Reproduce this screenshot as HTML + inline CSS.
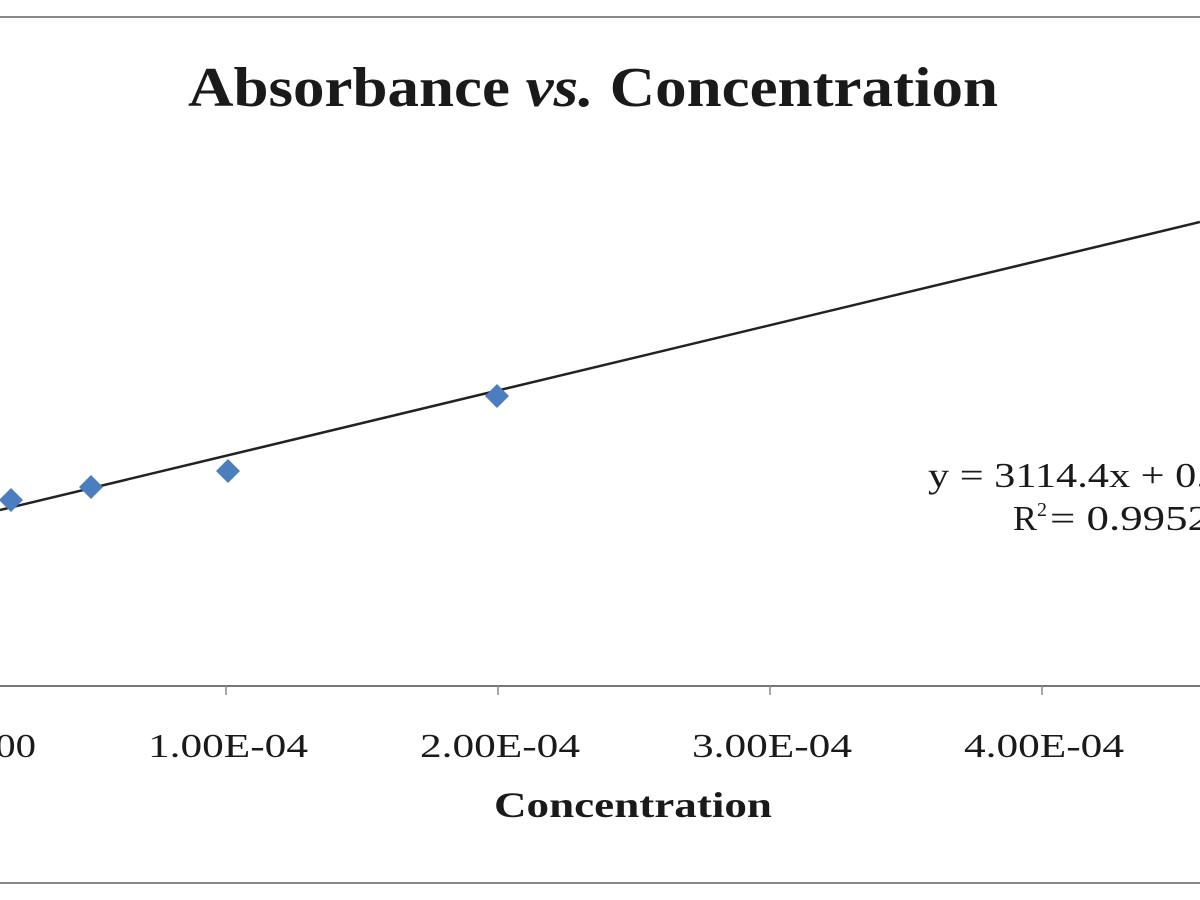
<!DOCTYPE html>
<html><head><meta charset="utf-8"><style>
body{margin:0;background:#fff;}
svg{display:block}
text{font-family:"Liberation Serif",serif;fill:#1a1a1a}
</style></head><body>
<svg width="1200" height="900" viewBox="0 0 1200 900">
<rect width="1200" height="900" fill="#fff"/>
<line x1="0" y1="17" x2="1200" y2="17" stroke="#888" stroke-width="2"/>
<line x1="0" y1="883" x2="1200" y2="883" stroke="#888" stroke-width="2"/>
<text x="188" y="106" font-size="56" font-weight="bold" textLength="810" lengthAdjust="spacingAndGlyphs">Absorbance <tspan font-style="italic">vs.</tspan> Concentration</text>
<line x1="0" y1="686" x2="1200" y2="686" stroke="#777" stroke-width="2"/>
<g stroke="#888" stroke-width="1.5">
<line x1="226" y1="686" x2="226" y2="695"/><line x1="498" y1="686" x2="498" y2="695"/>
<line x1="770" y1="686" x2="770" y2="695"/><line x1="1042" y1="686" x2="1042" y2="695"/>
</g>
<g font-size="34">
<text x="-124" y="757" textLength="160" lengthAdjust="spacingAndGlyphs">0.00E+00</text>
<text x="148" y="757" textLength="160" lengthAdjust="spacingAndGlyphs">1.00E-04</text>
<text x="420" y="757" textLength="160" lengthAdjust="spacingAndGlyphs">2.00E-04</text>
<text x="692" y="757" textLength="160" lengthAdjust="spacingAndGlyphs">3.00E-04</text>
<text x="964" y="757" textLength="160" lengthAdjust="spacingAndGlyphs">4.00E-04</text>
</g>
<text x="494" y="817" font-size="36" font-weight="bold" textLength="278" lengthAdjust="spacingAndGlyphs">Concentration</text>
<line x1="0" y1="510" x2="1200" y2="222" stroke="#222" stroke-width="2.5"/>
<g fill="#4a7ebf">
<path d="M11 488 L23 500 L11 512 L-1 500Z"/>
<path d="M91 475 L103 487 L91 499 L79 487Z"/>
<path d="M228 459 L240 471 L228 483 L216 471Z"/>
<path d="M497 384 L509 396 L497 408 L485 396Z"/>
</g>
<text x="928" y="487" font-size="35" textLength="300" lengthAdjust="spacingAndGlyphs">y = 3114.4x + 0.0</text>
<text x="1013" y="530" font-size="35" textLength="24" lengthAdjust="spacingAndGlyphs">R</text>
<text x="1037" y="516" font-size="20">2</text>
<text x="1050" y="530" font-size="35" textLength="160" lengthAdjust="spacingAndGlyphs">= 0.9952</text>
</svg>
</body></html>
